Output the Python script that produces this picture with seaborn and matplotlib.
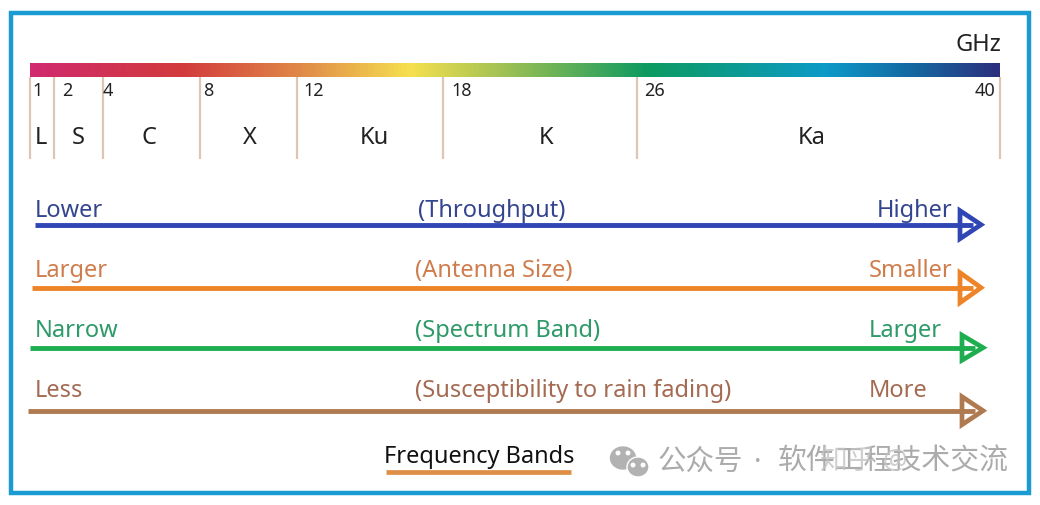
import numpy as np
import matplotlib
matplotlib.use("Agg")
import matplotlib.pyplot as plt
from matplotlib.colors import LinearSegmentedColormap, to_rgb
from matplotlib.patches import Ellipse, Polygon, Rectangle
import pandas as pd
import seaborn as sns

sns.set_theme(style="white")
plt.rcParams['font.family'] = ['Noto Sans', 'Noto Sans CJK SC', 'DejaVu Sans']

# band edges in GHz and band names
freqs = [1, 2, 4, 8, 12, 18, 26, 40]
bands = ["L", "S", "C", "X", "Ku", "K", "Ka"]

# the four trends
low_labels = ["Lower", "Larger", "Narrow", "Less"]
mid_labels = ["(Throughput)", "(Antenna Size)", "(Spectrum Band)", "(Susceptibility to rain fading)"]
high_labels = ["Higher", "Smaller", "Larger", "More"]
arrow_colors = ["#2F46B4", "#EE8428", "#1EAE50", "#B07A50"]
text_colors = ["#34458F", "#CF7D4C", "#2E9A68", "#A46A52"]

# layout, all in pixels of the 1040x505 picture
edge_x = [30, 54, 103, 200, 297, 443, 637, 1000]
num_x = [32, 62, 102.5, 203, 303, 451, 644, 975]
band_x = [41, 78, 149, 250, 374, 546, 812]
row_y = [224.7, 287.7, 347.7, 410.7]
row_x0 = [35, 32, 30, 28]
row_tip = [981, 981, 983, 983]
head_half = [14, 15, 12.5, 14]
low_x = [35, 35, 35, 35]
mid_x = [418, 415, 415, 415]
high_x = [877, 869, 869, 869]
text_y = [217, 277, 337, 397]

grad_x = [30, 50, 180, 300, 410, 520, 650, 827, 920, 1000]
grad_colors = ["#D22A70", "#D02C68", "#D23A3C", "#E08A48", "#F6E04E", "#90BC55",
               "#0B9A60", "#0D9AC8", "#15659F", "#2B2F7D"]

fig = plt.figure(figsize=(10.4, 5.05), dpi=100)
ax = fig.add_axes([0, 0, 1, 1])
ax.axis("off")

# colour bar
xs = np.arange(edge_x[0], edge_x[-1] + 1)
rgb = np.array([to_rgb(c) for c in grad_colors])
cols = np.column_stack([np.interp(xs, grad_x, rgb[:, i]) for i in range(3)])
cmap = LinearSegmentedColormap.from_list("bands", cols)
ax.imshow(xs[None, :], cmap=cmap, aspect="auto", extent=(30, 1000, 77, 63.5), zorder=2)
ax.set_xlim(0, 1040)
ax.set_ylim(505, 0)

# outer frame
ax.add_patch(Rectangle((10.5, 12.5), 1018, 480.5, fill=False, ec="#1A9BD2", lw=3.2))

ax.text(1001, 51, "GHz", ha="right", va="baseline", fontsize=17, color="#222222")

# band edges and labels
ax.vlines(edge_x, 77, 159, color="#DFC5B3", lw=1.6, zorder=1)
for x, f in zip(num_x, freqs):
    ax.text(x, 96, str(f), ha="left", va="baseline", fontsize=13, color="#222222")
for x, b in zip(band_x, bands):
    ax.text(x, 144, b, ha="center", va="baseline", fontsize=17, color="#222222")

# trend arrows
for i in range(4):
    y = row_y[i]
    tip = row_tip[i]
    shaft = pd.DataFrame({"x": [row_x0[i], tip - 8], "y": [y, y]})
    sns.lineplot(data=shaft, x="x", y="y", color=arrow_colors[i], lw=3.5, ax=ax,
                 legend=False, estimator=None, sort=False, zorder=3,
                 solid_capstyle="butt")
    h = head_half[i]
    ax.add_patch(Polygon([(tip - 21, y - h), (tip, y), (tip - 21, y + h)], closed=True,
                         fill=False, ec=arrow_colors[i], lw=3.4, zorder=3))
    ax.text(low_x[i], text_y[i], low_labels[i], ha="left", va="baseline", fontsize=17, color=text_colors[i])
    ax.text(mid_x[i], text_y[i], mid_labels[i], ha="left", va="baseline", fontsize=17, color=text_colors[i])
    ax.text(high_x[i], text_y[i], high_labels[i], ha="left", va="baseline", fontsize=17, color=text_colors[i])

ax.set_xlabel("")
ax.set_ylabel("")

# caption
ax.text(384, 463, "Frequency Bands", ha="left", va="baseline", fontsize=17, color="#111111")
ax.hlines(472, 386, 571, color="#DE8F45", lw=3.4)

# watermark
wm = "#ABABAB"
ax.add_patch(Ellipse((623, 458), 25, 22, color="#B2B2B2", zorder=4))
ax.add_patch(Ellipse((638, 467), 22, 20, fc="#B2B2B2", ec="white", lw=1, zorder=5))
for ex, ey in [(618, 453), (628, 453), (633, 465), (643, 465)]:
    ax.add_patch(Ellipse((ex, ey), 3.5, 3.5, color="white", zorder=6))
ax.text(658, 462, "公众号", ha="left", va="center", fontsize=20.5, color=wm, zorder=4)
ax.text(758, 462, "·", ha="center", va="center", fontsize=20.5, color=wm, zorder=4)
ax.text(778, 462, "软件工程技术交流", ha="left", va="center", fontsize=20.8, color=wm, zorder=4)
ax.text(820, 462, "知乎 @", ha="left", va="center", fontsize=20, color="#C4C4C4", alpha=0.8, zorder=4)

fig.savefig("out.png", dpi=100)
